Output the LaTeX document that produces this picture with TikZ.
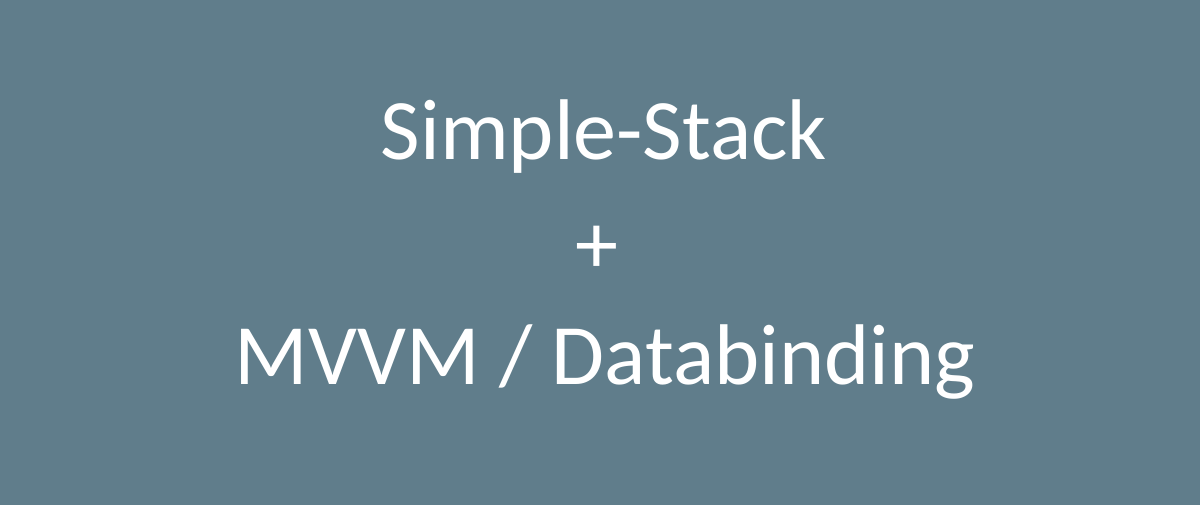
\documentclass[tikz,border=0pt]{standalone}
\usepackage{fontspec}
\setmainfont{Carlito}
\definecolor{slate}{HTML}{607D8B}
\tikzset{title/.style = {text = white, font = \fontsize{24.5}{28}\selectfont, anchor = base}}
\begin{document}
\begin{tikzpicture}
      \fill [slate] (0, 0) rectangle (12, 5.05);
      \useasboundingbox (0, 0) rectangle (12, 5.05);

      \node [title] (stack) at (6.04, 3.45) {Simple-Stack};
      \node [title, anchor = center] (plus) at (5.97, 2.55) {+};
      \node [title] (mvvm) at (6.05, 1.2) {MVVM / Databinding};
    \end{tikzpicture}
\end{document}
